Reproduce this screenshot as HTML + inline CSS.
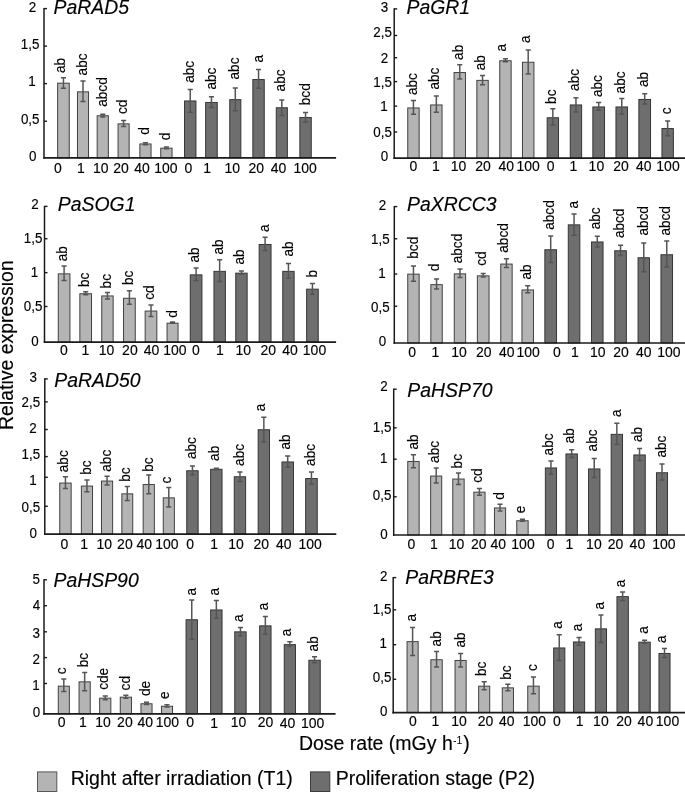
<!DOCTYPE html>
<html lang="en">
<head>
<meta charset="utf-8">
<title>Relative expression of DNA repair genes vs dose rate</title>
<style>
html,body{margin:0;padding:0;background:#fff;}
body{width:685px;height:792px;overflow:hidden;}
svg{display:block;}
</style>
</head>
<body>
<svg width="685" height="792" viewBox="0 0 685 792" font-family='"Liberation Sans", Arial, Helvetica, sans-serif' fill="#000000" stroke="#000000" stroke-width="0.15">
<rect x="0" y="0" width="685" height="792" fill="#ffffff" stroke="none"/>
<g>
<rect x="57.65" y="83.15" width="11.6" height="74.75" fill="#b4b4b4" stroke="#3a3a3a" stroke-width="0.95"/>
<rect x="77.45" y="91.85" width="11.1" height="66.05" fill="#b4b4b4" stroke="#3a3a3a" stroke-width="0.95"/>
<rect x="97.15" y="115.75" width="11.2" height="42.15" fill="#b4b4b4" stroke="#3a3a3a" stroke-width="0.95"/>
<rect x="118.05" y="123.85" width="11.1" height="34.05" fill="#b4b4b4" stroke="#3a3a3a" stroke-width="0.95"/>
<rect x="139.85" y="143.95" width="11.2" height="13.95" fill="#b4b4b4" stroke="#3a3a3a" stroke-width="0.95"/>
<rect x="160.75" y="148.15" width="11.3" height="9.75" fill="#b4b4b4" stroke="#3a3a3a" stroke-width="0.95"/>
<rect x="184.55" y="100.95" width="11.4" height="56.95" fill="#6e6e6e" stroke="#303030" stroke-width="0.95"/>
<rect x="205.65" y="102.45" width="11.6" height="55.45" fill="#6e6e6e" stroke="#303030" stroke-width="0.95"/>
<rect x="229.75" y="99.65" width="11.1" height="58.25" fill="#6e6e6e" stroke="#303030" stroke-width="0.95"/>
<rect x="252.85" y="79.55" width="11.4" height="78.35" fill="#6e6e6e" stroke="#303030" stroke-width="0.95"/>
<rect x="276.25" y="107.75" width="11.1" height="50.15" fill="#6e6e6e" stroke="#303030" stroke-width="0.95"/>
<rect x="299.85" y="117.45" width="11.4" height="40.45" fill="#6e6e6e" stroke="#303030" stroke-width="0.95"/>
<path d="M63.45 77.6V88.4M60.9 77.7H66M60.9 88.3H66" stroke="#555555" stroke-width="1.5" fill="none"/>
<path d="M83 80.9V101.6M80.45 81H85.55M80.45 101.5H85.55" stroke="#555555" stroke-width="1.5" fill="none"/>
<path d="M102.75 114.05V117.05M100.2 114.15H105.3M100.2 116.95H105.3" stroke="#555555" stroke-width="1.5" fill="none"/>
<path d="M123.6 120.5V126.7M121.05 120.6H126.15M121.05 126.6H126.15" stroke="#555555" stroke-width="1.5" fill="none"/>
<path d="M145.45 142.65V144.95M142.9 142.75H148M142.9 144.85H148" stroke="#555555" stroke-width="1.5" fill="none"/>
<path d="M166.4 146.95V148.95M163.85 147.05H168.95M163.85 148.85H168.95" stroke="#555555" stroke-width="1.5" fill="none"/>
<path d="M190.25 89.3V112.4M187.7 89.4H192.8M187.7 112.3H192.8" stroke="#555555" stroke-width="1.5" fill="none"/>
<path d="M211.45 96.6V107.6M208.9 96.7H214M208.9 107.5H214" stroke="#555555" stroke-width="1.5" fill="none"/>
<path d="M235.3 87.8V110.9M232.75 87.9H237.85M232.75 110.8H237.85" stroke="#555555" stroke-width="1.5" fill="none"/>
<path d="M258.55 69.5V88.3M256 69.6H261.1M256 88.2H261.1" stroke="#555555" stroke-width="1.5" fill="none"/>
<path d="M281.8 99.9V115.7M279.25 100H284.35M279.25 115.6H284.35" stroke="#555555" stroke-width="1.5" fill="none"/>
<path d="M305.55 112.5V122.2M303 112.6H308.1M303 122.1H308.1" stroke="#555555" stroke-width="1.5" fill="none"/>
<text font-size="13.9" transform="translate(65.4 73.1) rotate(-90) scale(0.98 1)">ab</text>
<text font-size="13.9" transform="translate(86.9 75.4) rotate(-90) scale(0.98 1)">abc</text>
<text font-size="13.9" transform="translate(107.1 106.8) rotate(-90) scale(0.98 1)">abcd</text>
<text font-size="13.9" transform="translate(127.2 114) rotate(-90) scale(0.98 1)">cd</text>
<text font-size="13.9" transform="translate(148.8 134.8) rotate(-90) scale(0.98 1)">d</text>
<text font-size="13.9" transform="translate(170.2 140.3) rotate(-90) scale(0.98 1)">d</text>
<text font-size="13.9" transform="translate(193.5 82.8) rotate(-90) scale(0.98 1)">abc</text>
<text font-size="13.9" transform="translate(216.1 89.6) rotate(-90) scale(0.98 1)">abc</text>
<text font-size="13.9" transform="translate(238.7 79.5) rotate(-90) scale(0.98 1)">abc</text>
<text font-size="13.9" transform="translate(263.1 62.5) rotate(-90) scale(0.98 1)">a</text>
<text font-size="13.9" transform="translate(284.7 91.4) rotate(-90) scale(0.98 1)">abc</text>
<text font-size="13.9" transform="translate(309.8 105.2) rotate(-90) scale(0.98 1)">bcd</text>
<path d="M44 8V158.8" stroke="#1a1a1a" stroke-width="1.5" fill="none"/>
<path d="M43.25 157.9H336.1" stroke="#1a1a1a" stroke-width="1.7" fill="none"/>
<path d="M44 8.6H47" stroke="#1a1a1a" stroke-width="1.4"/>
<path d="M44 46.1H47" stroke="#1a1a1a" stroke-width="1.4"/>
<path d="M44 83.6H47" stroke="#1a1a1a" stroke-width="1.4"/>
<path d="M44 121.25H47" stroke="#1a1a1a" stroke-width="1.4"/>
<text font-size="14.4" text-anchor="end" transform="translate(36.3 12) scale(0.93 1)">2</text>
<text font-size="14.4" text-anchor="end" transform="translate(39.4 49) scale(0.93 1)">1,5</text>
<text font-size="14.4" text-anchor="end" transform="translate(35.6 86) scale(0.93 1)">1</text>
<text font-size="14.4" text-anchor="end" transform="translate(39.5 124) scale(0.93 1)">0,5</text>
<text font-size="14.4" text-anchor="end" transform="translate(36.5 161) scale(0.93 1)">0</text>
<text font-size="14.5" text-anchor="middle" transform="translate(58 173) scale(0.965 1)">0</text>
<text font-size="14.5" text-anchor="middle" transform="translate(81 173) scale(0.965 1)">1</text>
<text font-size="14.5" text-anchor="middle" transform="translate(100.8 173) scale(0.965 1)">10</text>
<text font-size="14.5" text-anchor="middle" transform="translate(121.1 173) scale(0.965 1)">20</text>
<text font-size="14.5" text-anchor="middle" transform="translate(142 173) scale(0.965 1)">40</text>
<text font-size="14.5" text-anchor="middle" transform="translate(165.9 173) scale(0.965 1)">100</text>
<text font-size="14.5" text-anchor="middle" transform="translate(188.3 173) scale(0.965 1)">0</text>
<text font-size="14.5" text-anchor="middle" transform="translate(207.2 173) scale(0.965 1)">1</text>
<text font-size="14.5" text-anchor="middle" transform="translate(232.3 173) scale(0.965 1)">10</text>
<text font-size="14.5" text-anchor="middle" transform="translate(256.2 173) scale(0.965 1)">20</text>
<text font-size="14.5" text-anchor="middle" transform="translate(278.5 173) scale(0.965 1)">40</text>
<text font-size="14.5" text-anchor="middle" transform="translate(305.2 173) scale(0.965 1)">100</text>
<text font-size="19.6" font-style="italic" transform="translate(53.5 14.1) scale(0.99 1)">PaRAD5</text>
</g>
<g>
<rect x="407.75" y="107.95" width="11.4" height="50.25" fill="#b4b4b4" stroke="#3a3a3a" stroke-width="0.95"/>
<rect x="430.65" y="104.95" width="11.4" height="53.25" fill="#b4b4b4" stroke="#3a3a3a" stroke-width="0.95"/>
<rect x="454.05" y="72.55" width="11.4" height="85.65" fill="#b4b4b4" stroke="#3a3a3a" stroke-width="0.95"/>
<rect x="476.85" y="80.35" width="11.4" height="77.85" fill="#b4b4b4" stroke="#3a3a3a" stroke-width="0.95"/>
<rect x="499.75" y="60.75" width="11.4" height="97.45" fill="#b4b4b4" stroke="#3a3a3a" stroke-width="0.95"/>
<rect x="522.45" y="62.25" width="11.5" height="95.95" fill="#b4b4b4" stroke="#3a3a3a" stroke-width="0.95"/>
<rect x="547.15" y="117.75" width="11.4" height="40.45" fill="#6e6e6e" stroke="#303030" stroke-width="0.95"/>
<rect x="570.25" y="104.95" width="11.4" height="53.25" fill="#6e6e6e" stroke="#303030" stroke-width="0.95"/>
<rect x="592.85" y="106.95" width="11.7" height="51.25" fill="#6e6e6e" stroke="#303030" stroke-width="0.95"/>
<rect x="615.95" y="106.95" width="11.6" height="51.25" fill="#6e6e6e" stroke="#303030" stroke-width="0.95"/>
<rect x="638.85" y="99.45" width="11.7" height="58.75" fill="#6e6e6e" stroke="#303030" stroke-width="0.95"/>
<rect x="661.95" y="128.55" width="11.4" height="29.65" fill="#6e6e6e" stroke="#303030" stroke-width="0.95"/>
<path d="M413.45 100.4V114.4M410.9 100.5H416M410.9 114.3H416" stroke="#555555" stroke-width="1.5" fill="none"/>
<path d="M436.35 95.9V112.4M433.8 96H438.9M433.8 112.3H438.9" stroke="#555555" stroke-width="1.5" fill="none"/>
<path d="M459.75 64.7V79.2M457.2 64.8H462.3M457.2 79.1H462.3" stroke="#555555" stroke-width="1.5" fill="none"/>
<path d="M482.55 75.3V84.8M480 75.4H485.1M480 84.7H485.1" stroke="#555555" stroke-width="1.5" fill="none"/>
<path d="M505.45 58.75V61.75M502.9 58.85H508M502.9 61.65H508" stroke="#555555" stroke-width="1.5" fill="none"/>
<path d="M528.2 49.9V74M525.65 50H530.75M525.65 73.9H530.75" stroke="#555555" stroke-width="1.5" fill="none"/>
<path d="M552.85 108.7V125.2M550.3 108.8H555.4M550.3 125.1H555.4" stroke="#555555" stroke-width="1.5" fill="none"/>
<path d="M575.95 97.6V112.1M573.4 97.7H578.5M573.4 112H578.5" stroke="#555555" stroke-width="1.5" fill="none"/>
<path d="M598.7 102.4V110.4M596.15 102.5H601.25M596.15 110.3H601.25" stroke="#555555" stroke-width="1.5" fill="none"/>
<path d="M621.75 98.4V114.4M619.2 98.5H624.3M619.2 114.3H624.3" stroke="#555555" stroke-width="1.5" fill="none"/>
<path d="M644.7 93.6V104.1M642.15 93.7H647.25M642.15 104H647.25" stroke="#555555" stroke-width="1.5" fill="none"/>
<path d="M667.65 120.8V135.8M665.1 120.9H670.2M665.1 135.7H670.2" stroke="#555555" stroke-width="1.5" fill="none"/>
<text font-size="13.9" transform="translate(416.5 95.1) rotate(-90) scale(0.98 1)">abc</text>
<text font-size="13.9" transform="translate(439.1 89.6) rotate(-90) scale(0.98 1)">abc</text>
<text font-size="13.9" transform="translate(463.2 59.9) rotate(-90) scale(0.98 1)">ab</text>
<text font-size="13.9" transform="translate(485.1 70.2) rotate(-90) scale(0.98 1)">ab</text>
<text font-size="13.9" transform="translate(506.4 51.4) rotate(-90) scale(0.98 1)">a</text>
<text font-size="13.9" transform="translate(530.2 43.1) rotate(-90) scale(0.98 1)">a</text>
<text font-size="13.9" transform="translate(555.8 103.9) rotate(-90) scale(0.98 1)">bc</text>
<text font-size="13.9" transform="translate(578.9 90.9) rotate(-90) scale(0.98 1)">abc</text>
<text font-size="13.9" transform="translate(601.5 97.1) rotate(-90) scale(0.98 1)">abc</text>
<text font-size="13.9" transform="translate(624.9 93.4) rotate(-90) scale(0.98 1)">abc</text>
<text font-size="13.9" transform="translate(647.5 87.1) rotate(-90) scale(0.98 1)">ab</text>
<text font-size="13.9" transform="translate(670.9 114.2) rotate(-90) scale(0.98 1)">c</text>
<path d="M394.2 8.3V159.1" stroke="#1a1a1a" stroke-width="1.5" fill="none"/>
<path d="M393.45 158.2H686" stroke="#1a1a1a" stroke-width="1.7" fill="none"/>
<path d="M394.2 8.9H397.2" stroke="#1a1a1a" stroke-width="1.4"/>
<path d="M394.2 35.5H397.2" stroke="#1a1a1a" stroke-width="1.4"/>
<path d="M394.2 57.7H397.2" stroke="#1a1a1a" stroke-width="1.4"/>
<path d="M394.2 81.6H397.2" stroke="#1a1a1a" stroke-width="1.4"/>
<path d="M394.2 106.1H397.2" stroke="#1a1a1a" stroke-width="1.4"/>
<path d="M394.2 132H397.2" stroke="#1a1a1a" stroke-width="1.4"/>
<text font-size="14.4" text-anchor="end" transform="translate(388.2 12) scale(0.93 1)">3</text>
<text font-size="14.4" text-anchor="end" transform="translate(391.9 37) scale(0.93 1)">2,5</text>
<text font-size="14.4" text-anchor="end" transform="translate(388.3 63) scale(0.93 1)">2</text>
<text font-size="14.4" text-anchor="end" transform="translate(391.9 87) scale(0.93 1)">1,5</text>
<text font-size="14.4" text-anchor="end" transform="translate(387.8 111) scale(0.93 1)">1</text>
<text font-size="14.4" text-anchor="end" transform="translate(391.9 137) scale(0.93 1)">0,5</text>
<text font-size="14.4" text-anchor="end" transform="translate(388.3 161) scale(0.93 1)">0</text>
<text font-size="14.5" text-anchor="middle" transform="translate(413.4 171) scale(0.965 1)">0</text>
<text font-size="14.5" text-anchor="middle" transform="translate(436 171) scale(0.965 1)">1</text>
<text font-size="14.5" text-anchor="middle" transform="translate(458.6 171) scale(0.965 1)">10</text>
<text font-size="14.5" text-anchor="middle" transform="translate(483 171) scale(0.965 1)">20</text>
<text font-size="14.5" text-anchor="middle" transform="translate(506.3 171) scale(0.965 1)">40</text>
<text font-size="14.5" text-anchor="middle" transform="translate(528.1 171) scale(0.965 1)">100</text>
<text font-size="14.5" text-anchor="middle" transform="translate(550.7 171) scale(0.965 1)">0</text>
<text font-size="14.5" text-anchor="middle" transform="translate(573.3 171) scale(0.965 1)">1</text>
<text font-size="14.5" text-anchor="middle" transform="translate(596.4 171) scale(0.965 1)">10</text>
<text font-size="14.5" text-anchor="middle" transform="translate(621 171) scale(0.965 1)">20</text>
<text font-size="14.5" text-anchor="middle" transform="translate(643.7 171) scale(0.965 1)">40</text>
<text font-size="14.5" text-anchor="middle" transform="translate(668 171) scale(0.965 1)">100</text>
<text font-size="19.6" font-style="italic" transform="translate(406.5 14.1) scale(0.99 1)">PaGR1</text>
</g>
<g>
<rect x="58.25" y="273.85" width="11.7" height="68.25" fill="#b4b4b4" stroke="#3a3a3a" stroke-width="0.95"/>
<rect x="79.85" y="293.75" width="11.7" height="48.35" fill="#b4b4b4" stroke="#3a3a3a" stroke-width="0.95"/>
<rect x="101.75" y="295.95" width="11.4" height="46.15" fill="#b4b4b4" stroke="#3a3a3a" stroke-width="0.95"/>
<rect x="123.55" y="298.25" width="11.7" height="43.85" fill="#b4b4b4" stroke="#3a3a3a" stroke-width="0.95"/>
<rect x="145.15" y="311.05" width="11.7" height="31.05" fill="#b4b4b4" stroke="#3a3a3a" stroke-width="0.95"/>
<rect x="167.05" y="323.15" width="11" height="18.95" fill="#b4b4b4" stroke="#3a3a3a" stroke-width="0.95"/>
<rect x="190.25" y="274.85" width="11.7" height="67.25" fill="#6e6e6e" stroke="#303030" stroke-width="0.95"/>
<rect x="213.95" y="271.35" width="11.4" height="70.75" fill="#6e6e6e" stroke="#303030" stroke-width="0.95"/>
<rect x="235.75" y="273.15" width="11.4" height="68.95" fill="#6e6e6e" stroke="#303030" stroke-width="0.95"/>
<rect x="259.15" y="244.45" width="11.9" height="97.65" fill="#6e6e6e" stroke="#303030" stroke-width="0.95"/>
<rect x="282.75" y="271.35" width="11.4" height="70.75" fill="#6e6e6e" stroke="#303030" stroke-width="0.95"/>
<rect x="306.65" y="289.15" width="11.6" height="52.95" fill="#6e6e6e" stroke="#303030" stroke-width="0.95"/>
<path d="M64.1 265.8V280.6M61.55 265.9H66.65M61.55 280.5H66.65" stroke="#555555" stroke-width="1.5" fill="none"/>
<path d="M85.7 291.75V294.75M83.15 291.85H88.25M83.15 294.65H88.25" stroke="#555555" stroke-width="1.5" fill="none"/>
<path d="M107.45 292.4V299.1M104.9 292.5H110M104.9 299H110" stroke="#555555" stroke-width="1.5" fill="none"/>
<path d="M129.4 290.7V304.4M126.85 290.8H131.95M126.85 304.3H131.95" stroke="#555555" stroke-width="1.5" fill="none"/>
<path d="M151 305V316.5M148.45 305.1H153.55M148.45 316.4H153.55" stroke="#555555" stroke-width="1.5" fill="none"/>
<path d="M172.55 321.95V323.45M170 322.05H175.1M170 323.35H175.1" stroke="#555555" stroke-width="1.5" fill="none"/>
<path d="M196.1 268V280.6M193.55 268.1H198.65M193.55 280.5H198.65" stroke="#555555" stroke-width="1.5" fill="none"/>
<path d="M219.65 259.7V281.6M217.1 259.8H222.2M217.1 281.5H222.2" stroke="#555555" stroke-width="1.5" fill="none"/>
<path d="M241.45 270.95V274.45M238.9 271.05H244M238.9 274.35H244" stroke="#555555" stroke-width="1.5" fill="none"/>
<path d="M265.1 237.1V250.7M262.55 237.2H267.65M262.55 250.6H267.65" stroke="#555555" stroke-width="1.5" fill="none"/>
<path d="M288.45 263.5V278.3M285.9 263.6H291M285.9 278.2H291" stroke="#555555" stroke-width="1.5" fill="none"/>
<path d="M312.45 283.4V294.4M309.9 283.5H315M309.9 294.3H315" stroke="#555555" stroke-width="1.5" fill="none"/>
<text font-size="13.9" transform="translate(67.4 261.3) rotate(-90) scale(0.98 1)">ab</text>
<text font-size="13.9" transform="translate(89.3 287.1) rotate(-90) scale(0.98 1)">bc</text>
<text font-size="13.9" transform="translate(110.7 288.4) rotate(-90) scale(0.98 1)">bc</text>
<text font-size="13.9" transform="translate(132.8 285.1) rotate(-90) scale(0.98 1)">bc</text>
<text font-size="13.9" transform="translate(154.1 299.7) rotate(-90) scale(0.98 1)">cd</text>
<text font-size="13.9" transform="translate(176.6 317.8) rotate(-90) scale(0.98 1)">d</text>
<text font-size="13.9" transform="translate(198.5 262.5) rotate(-90) scale(0.98 1)">ab</text>
<text font-size="13.9" transform="translate(223.1 254.5) rotate(-90) scale(0.98 1)">ab</text>
<text font-size="13.9" transform="translate(244.2 264.5) rotate(-90) scale(0.98 1)">ab</text>
<text font-size="13.9" transform="translate(268.8 231.9) rotate(-90) scale(0.98 1)">a</text>
<text font-size="13.9" transform="translate(292.7 256.5) rotate(-90) scale(0.98 1)">ab</text>
<text font-size="13.9" transform="translate(316.6 277.6) rotate(-90) scale(0.98 1)">b</text>
<path d="M44.5 205.8V343" stroke="#1a1a1a" stroke-width="1.5" fill="none"/>
<path d="M43.75 342.1H336.1" stroke="#1a1a1a" stroke-width="1.7" fill="none"/>
<path d="M44.5 206.4H47.5" stroke="#1a1a1a" stroke-width="1.4"/>
<path d="M44.5 238.75H47.5" stroke="#1a1a1a" stroke-width="1.4"/>
<path d="M44.5 272.65H47.5" stroke="#1a1a1a" stroke-width="1.4"/>
<path d="M44.5 306.5H47.5" stroke="#1a1a1a" stroke-width="1.4"/>
<text font-size="14.4" text-anchor="end" transform="translate(38.7 209) scale(0.93 1)">2</text>
<text font-size="14.4" text-anchor="end" transform="translate(42.4 243) scale(0.93 1)">1,5</text>
<text font-size="14.4" text-anchor="end" transform="translate(38.3 277) scale(0.93 1)">1</text>
<text font-size="14.4" text-anchor="end" transform="translate(42.4 311) scale(0.93 1)">0,5</text>
<text font-size="14.4" text-anchor="end" transform="translate(38.7 346) scale(0.93 1)">0</text>
<text font-size="14.5" text-anchor="middle" transform="translate(64 355) scale(0.965 1)">0</text>
<text font-size="14.5" text-anchor="middle" transform="translate(85.4 355) scale(0.965 1)">1</text>
<text font-size="14.5" text-anchor="middle" transform="translate(106.5 355) scale(0.965 1)">10</text>
<text font-size="14.5" text-anchor="middle" transform="translate(129.9 355) scale(0.965 1)">20</text>
<text font-size="14.5" text-anchor="middle" transform="translate(151.5 355) scale(0.965 1)">40</text>
<text font-size="14.5" text-anchor="middle" transform="translate(174.8 355) scale(0.965 1)">100</text>
<text font-size="14.5" text-anchor="middle" transform="translate(195.9 355) scale(0.965 1)">0</text>
<text font-size="14.5" text-anchor="middle" transform="translate(220 355) scale(0.965 1)">1</text>
<text font-size="14.5" text-anchor="middle" transform="translate(243.2 355) scale(0.965 1)">10</text>
<text font-size="14.5" text-anchor="middle" transform="translate(268.3 355) scale(0.965 1)">20</text>
<text font-size="14.5" text-anchor="middle" transform="translate(290.1 355) scale(0.965 1)">40</text>
<text font-size="14.5" text-anchor="middle" transform="translate(314.5 355) scale(0.965 1)">100</text>
<text font-size="19.6" font-style="italic" transform="translate(57.8 211.1) scale(0.99 1)">PaSOG1</text>
</g>
<g>
<rect x="407.75" y="274.15" width="11.4" height="68.85" fill="#b4b4b4" stroke="#3a3a3a" stroke-width="0.95"/>
<rect x="430.85" y="284.65" width="11.4" height="58.35" fill="#b4b4b4" stroke="#3a3a3a" stroke-width="0.95"/>
<rect x="454.25" y="273.85" width="11.4" height="69.15" fill="#b4b4b4" stroke="#3a3a3a" stroke-width="0.95"/>
<rect x="477.35" y="275.85" width="11.7" height="67.15" fill="#b4b4b4" stroke="#3a3a3a" stroke-width="0.95"/>
<rect x="500.75" y="264.05" width="11.4" height="78.95" fill="#b4b4b4" stroke="#3a3a3a" stroke-width="0.95"/>
<rect x="521.95" y="289.95" width="11.5" height="53.05" fill="#b4b4b4" stroke="#3a3a3a" stroke-width="0.95"/>
<rect x="544.85" y="249.75" width="11.7" height="93.25" fill="#6e6e6e" stroke="#303030" stroke-width="0.95"/>
<rect x="568.25" y="224.85" width="11.6" height="118.15" fill="#6e6e6e" stroke="#303030" stroke-width="0.95"/>
<rect x="591.55" y="241.95" width="11.5" height="101.05" fill="#6e6e6e" stroke="#303030" stroke-width="0.95"/>
<rect x="614.75" y="250.75" width="11.6" height="92.25" fill="#6e6e6e" stroke="#303030" stroke-width="0.95"/>
<rect x="638.05" y="257.75" width="11.4" height="85.25" fill="#6e6e6e" stroke="#303030" stroke-width="0.95"/>
<rect x="660.95" y="254.75" width="11.6" height="88.25" fill="#6e6e6e" stroke="#303030" stroke-width="0.95"/>
<path d="M413.45 266V281.3M410.9 266.1H416M410.9 281.2H416" stroke="#555555" stroke-width="1.5" fill="none"/>
<path d="M436.55 278.8V289.1M434 278.9H439.1M434 289H439.1" stroke="#555555" stroke-width="1.5" fill="none"/>
<path d="M459.95 268.8V277.5M457.4 268.9H462.5M457.4 277.4H462.5" stroke="#555555" stroke-width="1.5" fill="none"/>
<path d="M483.2 273.45V277.15M480.65 273.55H485.75M480.65 277.05H485.75" stroke="#555555" stroke-width="1.5" fill="none"/>
<path d="M506.45 258.7V267.7M503.9 258.8H509M503.9 267.6H509" stroke="#555555" stroke-width="1.5" fill="none"/>
<path d="M527.7 285.6V292.9M525.15 285.7H530.25M525.15 292.8H530.25" stroke="#555555" stroke-width="1.5" fill="none"/>
<path d="M550.7 235.9V262.5M548.15 236H553.25M548.15 262.4H553.25" stroke="#555555" stroke-width="1.5" fill="none"/>
<path d="M574.05 213.8V235.3M571.5 213.9H576.6M571.5 235.2H576.6" stroke="#555555" stroke-width="1.5" fill="none"/>
<path d="M597.3 236.1V247.1M594.75 236.2H599.85M594.75 247H599.85" stroke="#555555" stroke-width="1.5" fill="none"/>
<path d="M620.55 245.2V255.7M618 245.3H623.1M618 255.6H623.1" stroke="#555555" stroke-width="1.5" fill="none"/>
<path d="M643.75 242.9V271.8M641.2 243H646.3M641.2 271.7H646.3" stroke="#555555" stroke-width="1.5" fill="none"/>
<path d="M666.75 240.9V267.2M664.2 241H669.3M664.2 267.1H669.3" stroke="#555555" stroke-width="1.5" fill="none"/>
<text font-size="13.9" transform="translate(417.7 258.7) rotate(-90) scale(0.98 1)">bcd</text>
<text font-size="13.9" transform="translate(439.1 271.3) rotate(-90) scale(0.98 1)">d</text>
<text font-size="13.9" transform="translate(462.4 263.3) rotate(-90) scale(0.98 1)">abcd</text>
<text font-size="13.9" transform="translate(486.3 265.8) rotate(-90) scale(0.98 1)">cd</text>
<text font-size="13.9" transform="translate(508.4 252.7) rotate(-90) scale(0.98 1)">abcd</text>
<text font-size="13.9" transform="translate(530.7 279.6) rotate(-90) scale(0.98 1)">ab</text>
<text font-size="13.9" transform="translate(553.8 229.8) rotate(-90) scale(0.98 1)">abcd</text>
<text font-size="13.9" transform="translate(577.9 208.5) rotate(-90) scale(0.98 1)">a</text>
<text font-size="13.9" transform="translate(600.3 229.3) rotate(-90) scale(0.98 1)">abc</text>
<text font-size="13.9" transform="translate(623.7 238.1) rotate(-90) scale(0.98 1)">abcd</text>
<text font-size="13.9" transform="translate(647.5 235.6) rotate(-90) scale(0.98 1)">abcd</text>
<text font-size="13.9" transform="translate(670.1 235.6) rotate(-90) scale(0.98 1)">abcd</text>
<path d="M394.3 206V343.9" stroke="#1a1a1a" stroke-width="1.5" fill="none"/>
<path d="M393.55 343H686" stroke="#1a1a1a" stroke-width="1.7" fill="none"/>
<path d="M394.3 206.6H397.3" stroke="#1a1a1a" stroke-width="1.4"/>
<path d="M394.3 238.75H397.3" stroke="#1a1a1a" stroke-width="1.4"/>
<path d="M394.3 274H397.3" stroke="#1a1a1a" stroke-width="1.4"/>
<path d="M394.3 306.25H397.3" stroke="#1a1a1a" stroke-width="1.4"/>
<text font-size="14.4" text-anchor="end" transform="translate(386.3 210) scale(0.93 1)">2</text>
<text font-size="14.4" text-anchor="end" transform="translate(389.7 244) scale(0.93 1)">1,5</text>
<text font-size="14.4" text-anchor="end" transform="translate(385.8 278) scale(0.93 1)">1</text>
<text font-size="14.4" text-anchor="end" transform="translate(389.7 312) scale(0.93 1)">0,5</text>
<text font-size="14.4" text-anchor="end" transform="translate(386.3 346) scale(0.93 1)">0</text>
<text font-size="14.5" text-anchor="middle" transform="translate(412.1 357) scale(0.965 1)">0</text>
<text font-size="14.5" text-anchor="middle" transform="translate(435.5 357) scale(0.965 1)">1</text>
<text font-size="14.5" text-anchor="middle" transform="translate(459.1 357) scale(0.965 1)">10</text>
<text font-size="14.5" text-anchor="middle" transform="translate(483.7 357) scale(0.965 1)">20</text>
<text font-size="14.5" text-anchor="middle" transform="translate(506.8 357) scale(0.965 1)">40</text>
<text font-size="14.5" text-anchor="middle" transform="translate(528.1 357) scale(0.965 1)">100</text>
<text font-size="14.5" text-anchor="middle" transform="translate(557 357) scale(0.965 1)">0</text>
<text font-size="14.5" text-anchor="middle" transform="translate(574.9 357) scale(0.965 1)">1</text>
<text font-size="14.5" text-anchor="middle" transform="translate(597.7 357) scale(0.965 1)">10</text>
<text font-size="14.5" text-anchor="middle" transform="translate(621 357) scale(0.965 1)">20</text>
<text font-size="14.5" text-anchor="middle" transform="translate(643.7 357) scale(0.965 1)">40</text>
<text font-size="14.5" text-anchor="middle" transform="translate(668.8 357) scale(0.965 1)">100</text>
<text font-size="19.6" font-style="italic" transform="translate(407.1 211.1) scale(0.99 1)">PaXRCC3</text>
</g>
<g>
<rect x="59.75" y="483.05" width="11.4" height="51.05" fill="#b4b4b4" stroke="#3a3a3a" stroke-width="0.95"/>
<rect x="81.35" y="486.05" width="11.2" height="48.05" fill="#b4b4b4" stroke="#3a3a3a" stroke-width="0.95"/>
<rect x="101.45" y="481.05" width="11.2" height="53.05" fill="#b4b4b4" stroke="#3a3a3a" stroke-width="0.95"/>
<rect x="121.85" y="493.85" width="10.9" height="40.25" fill="#b4b4b4" stroke="#3a3a3a" stroke-width="0.95"/>
<rect x="143.15" y="484.55" width="11.2" height="49.55" fill="#b4b4b4" stroke="#3a3a3a" stroke-width="0.95"/>
<rect x="163.25" y="497.85" width="11.1" height="36.25" fill="#b4b4b4" stroke="#3a3a3a" stroke-width="0.95"/>
<rect x="186.75" y="470.75" width="11.4" height="63.35" fill="#6e6e6e" stroke="#303030" stroke-width="0.95"/>
<rect x="210.65" y="469.25" width="11.4" height="64.85" fill="#6e6e6e" stroke="#303030" stroke-width="0.95"/>
<rect x="234.25" y="476.75" width="11.4" height="57.35" fill="#6e6e6e" stroke="#303030" stroke-width="0.95"/>
<rect x="258.15" y="429.75" width="11.4" height="104.35" fill="#6e6e6e" stroke="#303030" stroke-width="0.95"/>
<rect x="281.95" y="461.95" width="11.5" height="72.15" fill="#6e6e6e" stroke="#303030" stroke-width="0.95"/>
<rect x="305.65" y="478.55" width="11.6" height="55.55" fill="#6e6e6e" stroke="#303030" stroke-width="0.95"/>
<path d="M65.45 476.7V488.7M62.9 476.8H68M62.9 488.6H68" stroke="#555555" stroke-width="1.5" fill="none"/>
<path d="M86.95 480V491.8M84.4 480.1H89.5M84.4 491.7H89.5" stroke="#555555" stroke-width="1.5" fill="none"/>
<path d="M107.05 476.2V485.2M104.5 476.3H109.6M104.5 485.1H109.6" stroke="#555555" stroke-width="1.5" fill="none"/>
<path d="M127.3 486.5V500.6M124.75 486.6H129.85M124.75 500.5H129.85" stroke="#555555" stroke-width="1.5" fill="none"/>
<path d="M148.75 475V493.8M146.2 475.1H151.3M146.2 493.7H151.3" stroke="#555555" stroke-width="1.5" fill="none"/>
<path d="M168.8 487.5V507.1M166.25 487.6H171.35M166.25 507H171.35" stroke="#555555" stroke-width="1.5" fill="none"/>
<path d="M192.45 465.9V474.9M189.9 466H195M189.9 474.8H195" stroke="#555555" stroke-width="1.5" fill="none"/>
<path d="M216.35 468.05V469.75M213.8 468.15H218.9M213.8 469.65H218.9" stroke="#555555" stroke-width="1.5" fill="none"/>
<path d="M239.95 472V481.5M237.4 472.1H242.5M237.4 481.4H242.5" stroke="#555555" stroke-width="1.5" fill="none"/>
<path d="M263.85 417.2V442M261.3 417.3H266.4M261.3 441.9H266.4" stroke="#555555" stroke-width="1.5" fill="none"/>
<path d="M287.7 455.9V467.4M285.15 456H290.25M285.15 467.3H290.25" stroke="#555555" stroke-width="1.5" fill="none"/>
<path d="M311.45 472V484.2M308.9 472.1H314M308.9 484.1H314" stroke="#555555" stroke-width="1.5" fill="none"/>
<text font-size="13.9" transform="translate(67.9 472.2) rotate(-90) scale(0.98 1)">abc</text>
<text font-size="13.9" transform="translate(90.6 474.7) rotate(-90) scale(0.98 1)">bc</text>
<text font-size="13.9" transform="translate(110.7 471.7) rotate(-90) scale(0.98 1)">abc</text>
<text font-size="13.9" transform="translate(130 481.8) rotate(-90) scale(0.98 1)">bc</text>
<text font-size="13.9" transform="translate(152.6 471.7) rotate(-90) scale(0.98 1)">bc</text>
<text font-size="13.9" transform="translate(171 483.5) rotate(-90) scale(0.98 1)">c</text>
<text font-size="13.9" transform="translate(195.5 459.1) rotate(-90) scale(0.98 1)">abc</text>
<text font-size="13.9" transform="translate(219.1 460.9) rotate(-90) scale(0.98 1)">ab</text>
<text font-size="13.9" transform="translate(244.2 465.9) rotate(-90) scale(0.98 1)">abc</text>
<text font-size="13.9" transform="translate(265.1 411.2) rotate(-90) scale(0.98 1)">a</text>
<text font-size="13.9" transform="translate(289.7 449.6) rotate(-90) scale(0.98 1)">ab</text>
<text font-size="13.9" transform="translate(314.8 465.9) rotate(-90) scale(0.98 1)">abc</text>
<path d="M44.8 378.3V535" stroke="#1a1a1a" stroke-width="1.5" fill="none"/>
<path d="M44.05 534.1H336.3" stroke="#1a1a1a" stroke-width="1.7" fill="none"/>
<path d="M44.8 378.9H47.8" stroke="#1a1a1a" stroke-width="1.4"/>
<path d="M44.8 401.9H47.8" stroke="#1a1a1a" stroke-width="1.4"/>
<path d="M44.8 429.5H47.8" stroke="#1a1a1a" stroke-width="1.4"/>
<path d="M44.8 456.6H47.8" stroke="#1a1a1a" stroke-width="1.4"/>
<path d="M44.8 477.3H47.8" stroke="#1a1a1a" stroke-width="1.4"/>
<path d="M44.8 506.25H47.8" stroke="#1a1a1a" stroke-width="1.4"/>
<text font-size="14.4" text-anchor="end" transform="translate(36.9 382) scale(0.93 1)">3</text>
<text font-size="14.4" text-anchor="end" transform="translate(40.1 407) scale(0.93 1)">2,5</text>
<text font-size="14.4" text-anchor="end" transform="translate(36.7 433) scale(0.93 1)">2</text>
<text font-size="14.4" text-anchor="end" transform="translate(40.1 459) scale(0.93 1)">1,5</text>
<text font-size="14.4" text-anchor="end" transform="translate(36.6 485) scale(0.93 1)">1</text>
<text font-size="14.4" text-anchor="end" transform="translate(40.1 512) scale(0.93 1)">0,5</text>
<text font-size="14.4" text-anchor="end" transform="translate(36.9 538) scale(0.93 1)">0</text>
<text font-size="14.5" text-anchor="middle" transform="translate(64.3 549) scale(0.965 1)">0</text>
<text font-size="14.5" text-anchor="middle" transform="translate(84.2 549) scale(0.965 1)">1</text>
<text font-size="14.5" text-anchor="middle" transform="translate(104.3 549) scale(0.965 1)">10</text>
<text font-size="14.5" text-anchor="middle" transform="translate(124.9 549) scale(0.965 1)">20</text>
<text font-size="14.5" text-anchor="middle" transform="translate(144.2 549) scale(0.965 1)">40</text>
<text font-size="14.5" text-anchor="middle" transform="translate(166.8 549) scale(0.965 1)">100</text>
<text font-size="14.5" text-anchor="middle" transform="translate(190.1 549) scale(0.965 1)">0</text>
<text font-size="14.5" text-anchor="middle" transform="translate(214.2 549) scale(0.965 1)">1</text>
<text font-size="14.5" text-anchor="middle" transform="translate(236.1 549) scale(0.965 1)">10</text>
<text font-size="14.5" text-anchor="middle" transform="translate(261.2 549) scale(0.965 1)">20</text>
<text font-size="14.5" text-anchor="middle" transform="translate(283.8 549) scale(0.965 1)">40</text>
<text font-size="14.5" text-anchor="middle" transform="translate(310.2 549) scale(0.965 1)">100</text>
<text font-size="19.6" font-style="italic" transform="translate(54.3 386.6) scale(0.99 1)">PaRAD50</text>
</g>
<g>
<rect x="407.75" y="461.45" width="11.4" height="73.55" fill="#b4b4b4" stroke="#3a3a3a" stroke-width="0.95"/>
<rect x="430.65" y="476.05" width="11.1" height="58.95" fill="#b4b4b4" stroke="#3a3a3a" stroke-width="0.95"/>
<rect x="452.75" y="479.05" width="11.4" height="55.95" fill="#b4b4b4" stroke="#3a3a3a" stroke-width="0.95"/>
<rect x="473.85" y="492.15" width="11.2" height="42.85" fill="#b4b4b4" stroke="#3a3a3a" stroke-width="0.95"/>
<rect x="494.45" y="507.95" width="11.2" height="27.05" fill="#b4b4b4" stroke="#3a3a3a" stroke-width="0.95"/>
<rect x="516.75" y="520.75" width="11.4" height="14.25" fill="#b4b4b4" stroke="#3a3a3a" stroke-width="0.95"/>
<rect x="545.35" y="467.95" width="11.2" height="67.05" fill="#6e6e6e" stroke="#303030" stroke-width="0.95"/>
<rect x="565.95" y="453.95" width="11.4" height="81.05" fill="#6e6e6e" stroke="#303030" stroke-width="0.95"/>
<rect x="588.55" y="468.95" width="11.4" height="66.05" fill="#6e6e6e" stroke="#303030" stroke-width="0.95"/>
<rect x="611.15" y="434.35" width="11.4" height="100.65" fill="#6e6e6e" stroke="#303030" stroke-width="0.95"/>
<rect x="633.85" y="454.95" width="11.4" height="80.05" fill="#6e6e6e" stroke="#303030" stroke-width="0.95"/>
<rect x="656.45" y="472.75" width="11.1" height="62.25" fill="#6e6e6e" stroke="#303030" stroke-width="0.95"/>
<path d="M413.45 454.6V467.9M410.9 454.7H416M410.9 467.8H416" stroke="#555555" stroke-width="1.5" fill="none"/>
<path d="M436.2 467.9V483.2M433.65 468H438.75M433.65 483.1H438.75" stroke="#555555" stroke-width="1.5" fill="none"/>
<path d="M458.45 473V484.7M455.9 473.1H461M455.9 484.6H461" stroke="#555555" stroke-width="1.5" fill="none"/>
<path d="M479.45 488.5V495.3M476.9 488.6H482M476.9 495.2H482" stroke="#555555" stroke-width="1.5" fill="none"/>
<path d="M500.05 504.1V511.1M497.5 504.2H502.6M497.5 511H502.6" stroke="#555555" stroke-width="1.5" fill="none"/>
<path d="M522.45 519.25V521.35M519.9 519.35H525M519.9 521.25H525" stroke="#555555" stroke-width="1.5" fill="none"/>
<path d="M550.95 460.9V474.4M548.4 461H553.5M548.4 474.3H553.5" stroke="#555555" stroke-width="1.5" fill="none"/>
<path d="M571.65 449.6V457.6M569.1 449.7H574.2M569.1 457.5H574.2" stroke="#555555" stroke-width="1.5" fill="none"/>
<path d="M594.25 458.4V477.7M591.7 458.5H596.8M591.7 477.6H596.8" stroke="#555555" stroke-width="1.5" fill="none"/>
<path d="M616.85 423.2V444.5M614.3 423.3H619.4M614.3 444.4H619.4" stroke="#555555" stroke-width="1.5" fill="none"/>
<path d="M639.55 448.3V460.6M637 448.4H642.1M637 460.5H642.1" stroke="#555555" stroke-width="1.5" fill="none"/>
<path d="M662 463.9V480.2M659.45 464H664.55M659.45 480.1H664.55" stroke="#555555" stroke-width="1.5" fill="none"/>
<text font-size="13.9" transform="translate(417.7 449.6) rotate(-90) scale(0.98 1)">ab</text>
<text font-size="13.9" transform="translate(439.1 462.9) rotate(-90) scale(0.98 1)">abc</text>
<text font-size="13.9" transform="translate(462.4 468.4) rotate(-90) scale(0.98 1)">bc</text>
<text font-size="13.9" transform="translate(481.8 482.8) rotate(-90) scale(0.98 1)">cd</text>
<text font-size="13.9" transform="translate(503.9 499.8) rotate(-90) scale(0.98 1)">d</text>
<text font-size="13.9" transform="translate(524.9 513.2) rotate(-90) scale(0.98 1)">e</text>
<text font-size="13.9" transform="translate(553.3 455.4) rotate(-90) scale(0.98 1)">abc</text>
<text font-size="13.9" transform="translate(574.2 443.3) rotate(-90) scale(0.98 1)">ab</text>
<text font-size="13.9" transform="translate(597.3 451.4) rotate(-90) scale(0.98 1)">abc</text>
<text font-size="13.9" transform="translate(620.6 416.9) rotate(-90) scale(0.98 1)">a</text>
<text font-size="13.9" transform="translate(642 442.1) rotate(-90) scale(0.98 1)">ab</text>
<text font-size="13.9" transform="translate(665.9 457.6) rotate(-90) scale(0.98 1)">abc</text>
<path d="M393.7 388.6V535.9" stroke="#1a1a1a" stroke-width="1.5" fill="none"/>
<path d="M392.95 535H686" stroke="#1a1a1a" stroke-width="1.7" fill="none"/>
<path d="M393.7 389.2H396.7" stroke="#1a1a1a" stroke-width="1.4"/>
<path d="M393.7 427.8H396.7" stroke="#1a1a1a" stroke-width="1.4"/>
<path d="M393.7 459.2H396.7" stroke="#1a1a1a" stroke-width="1.4"/>
<path d="M393.7 496.8H396.7" stroke="#1a1a1a" stroke-width="1.4"/>
<text font-size="14.4" text-anchor="end" transform="translate(387.6 391) scale(0.93 1)">2</text>
<text font-size="14.4" text-anchor="end" transform="translate(391.4 432) scale(0.93 1)">1,5</text>
<text font-size="14.4" text-anchor="end" transform="translate(387.5 463) scale(0.93 1)">1</text>
<text font-size="14.4" text-anchor="end" transform="translate(391.4 500) scale(0.93 1)">0,5</text>
<text font-size="14.4" text-anchor="end" transform="translate(387.7 539) scale(0.93 1)">0</text>
<text font-size="14.5" text-anchor="middle" transform="translate(411.3 549) scale(0.965 1)">0</text>
<text font-size="14.5" text-anchor="middle" transform="translate(434 549) scale(0.965 1)">1</text>
<text font-size="14.5" text-anchor="middle" transform="translate(456.6 549) scale(0.965 1)">10</text>
<text font-size="14.5" text-anchor="middle" transform="translate(478.7 549) scale(0.965 1)">20</text>
<text font-size="14.5" text-anchor="middle" transform="translate(498.3 549) scale(0.965 1)">40</text>
<text font-size="14.5" text-anchor="middle" transform="translate(523 549) scale(0.965 1)">100</text>
<text font-size="14.5" text-anchor="middle" transform="translate(550.7 549) scale(0.965 1)">0</text>
<text font-size="14.5" text-anchor="middle" transform="translate(569.5 549) scale(0.965 1)">1</text>
<text font-size="14.5" text-anchor="middle" transform="translate(593.9 549) scale(0.965 1)">10</text>
<text font-size="14.5" text-anchor="middle" transform="translate(615.5 549) scale(0.965 1)">20</text>
<text font-size="14.5" text-anchor="middle" transform="translate(637.4 549) scale(0.965 1)">40</text>
<text font-size="14.5" text-anchor="middle" transform="translate(663.8 549) scale(0.965 1)">100</text>
<text font-size="19.6" font-style="italic" transform="translate(407.3 397.4) scale(0.99 1)">PaHSP70</text>
</g>
<g>
<rect x="58.25" y="686.15" width="11.1" height="27.65" fill="#b4b4b4" stroke="#3a3a3a" stroke-width="0.95"/>
<rect x="79.05" y="681.85" width="11.2" height="31.95" fill="#b4b4b4" stroke="#3a3a3a" stroke-width="0.95"/>
<rect x="99.65" y="698.15" width="11.2" height="15.65" fill="#b4b4b4" stroke="#3a3a3a" stroke-width="0.95"/>
<rect x="120.25" y="697.15" width="11.2" height="16.65" fill="#b4b4b4" stroke="#3a3a3a" stroke-width="0.95"/>
<rect x="140.95" y="703.75" width="11.1" height="10.05" fill="#b4b4b4" stroke="#3a3a3a" stroke-width="0.95"/>
<rect x="161.45" y="706.25" width="11.1" height="7.55" fill="#b4b4b4" stroke="#3a3a3a" stroke-width="0.95"/>
<rect x="186.05" y="619.75" width="11.4" height="94.05" fill="#6e6e6e" stroke="#303030" stroke-width="0.95"/>
<rect x="210.65" y="609.95" width="11.4" height="103.85" fill="#6e6e6e" stroke="#303030" stroke-width="0.95"/>
<rect x="234.75" y="631.85" width="11.4" height="81.95" fill="#6e6e6e" stroke="#303030" stroke-width="0.95"/>
<rect x="259.65" y="625.85" width="11.4" height="87.95" fill="#6e6e6e" stroke="#303030" stroke-width="0.95"/>
<rect x="284.25" y="644.65" width="11.2" height="69.15" fill="#6e6e6e" stroke="#303030" stroke-width="0.95"/>
<rect x="308.85" y="660.25" width="11.4" height="53.55" fill="#6e6e6e" stroke="#303030" stroke-width="0.95"/>
<path d="M63.8 679V691.6M61.25 679.1H66.35M61.25 691.5H66.35" stroke="#555555" stroke-width="1.5" fill="none"/>
<path d="M84.65 672.3V690.8M82.1 672.4H87.2M82.1 690.7H87.2" stroke="#555555" stroke-width="1.5" fill="none"/>
<path d="M105.25 695.95V699.75M102.7 696.05H107.8M102.7 699.65H107.8" stroke="#555555" stroke-width="1.5" fill="none"/>
<path d="M125.85 695.25V698.45M123.3 695.35H128.4M123.3 698.35H128.4" stroke="#555555" stroke-width="1.5" fill="none"/>
<path d="M146.5 702.25V704.55M143.95 702.35H149.05M143.95 704.45H149.05" stroke="#555555" stroke-width="1.5" fill="none"/>
<path d="M167 704.75V707.05M164.45 704.85H169.55M164.45 706.95H169.55" stroke="#555555" stroke-width="1.5" fill="none"/>
<path d="M191.75 599.9V639.3M189.2 600H194.3M189.2 639.2H194.3" stroke="#555555" stroke-width="1.5" fill="none"/>
<path d="M216.35 600.4V618.4M213.8 600.5H218.9M213.8 618.3H218.9" stroke="#555555" stroke-width="1.5" fill="none"/>
<path d="M240.45 627.5V635.8M237.9 627.6H243M237.9 635.7H243" stroke="#555555" stroke-width="1.5" fill="none"/>
<path d="M265.35 616.5V634.3M262.8 616.6H267.9M262.8 634.2H267.9" stroke="#555555" stroke-width="1.5" fill="none"/>
<path d="M289.85 641.6V646.3M287.3 641.7H292.4M287.3 646.2H292.4" stroke="#555555" stroke-width="1.5" fill="none"/>
<path d="M314.55 656.7V662.9M312 656.8H317.1M312 662.8H317.1" stroke="#555555" stroke-width="1.5" fill="none"/>
<text font-size="13.9" transform="translate(66.2 674.3) rotate(-90) scale(0.98 1)">c</text>
<text font-size="13.9" transform="translate(88 667.2) rotate(-90) scale(0.98 1)">bc</text>
<text font-size="13.9" transform="translate(108.1 689.8) rotate(-90) scale(0.98 1)">cde</text>
<text font-size="13.9" transform="translate(130 690.4) rotate(-90) scale(0.98 1)">cd</text>
<text font-size="13.9" transform="translate(149.6 696.1) rotate(-90) scale(0.98 1)">de</text>
<text font-size="13.9" transform="translate(169.2 699.1) rotate(-90) scale(0.98 1)">e</text>
<text font-size="13.9" transform="translate(195.5 595.6) rotate(-90) scale(0.98 1)">a</text>
<text font-size="13.9" transform="translate(219.1 595.6) rotate(-90) scale(0.98 1)">a</text>
<text font-size="13.9" transform="translate(243 622) rotate(-90) scale(0.98 1)">a</text>
<text font-size="13.9" transform="translate(268.1 610.2) rotate(-90) scale(0.98 1)">a</text>
<text font-size="13.9" transform="translate(290.7 636.3) rotate(-90) scale(0.98 1)">a</text>
<text font-size="13.9" transform="translate(317.8 651.4) rotate(-90) scale(0.98 1)">ab</text>
<path d="M44 579.2V714.7" stroke="#1a1a1a" stroke-width="1.5" fill="none"/>
<path d="M43.25 713.8H335.6" stroke="#1a1a1a" stroke-width="1.7" fill="none"/>
<path d="M44 579.8H47" stroke="#1a1a1a" stroke-width="1.4"/>
<path d="M44 605.7H47" stroke="#1a1a1a" stroke-width="1.4"/>
<path d="M44 631.8H47" stroke="#1a1a1a" stroke-width="1.4"/>
<path d="M44 657.6H47" stroke="#1a1a1a" stroke-width="1.4"/>
<path d="M44 683.5H47" stroke="#1a1a1a" stroke-width="1.4"/>
<text font-size="14.4" text-anchor="end" transform="translate(39.9 584) scale(0.93 1)">5</text>
<text font-size="14.4" text-anchor="end" transform="translate(40.1 610) scale(0.93 1)">4</text>
<text font-size="14.4" text-anchor="end" transform="translate(39.9 638) scale(0.93 1)">3</text>
<text font-size="14.4" text-anchor="end" transform="translate(39.9 664) scale(0.93 1)">2</text>
<text font-size="14.4" text-anchor="end" transform="translate(39.6 690) scale(0.93 1)">1</text>
<text font-size="14.4" text-anchor="end" transform="translate(40.1 717) scale(0.93 1)">0</text>
<text font-size="14.5" text-anchor="middle" transform="translate(61.6 727.1) scale(0.965 1)">0</text>
<text font-size="14.5" text-anchor="middle" transform="translate(82.9 727.1) scale(0.965 1)">1</text>
<text font-size="14.5" text-anchor="middle" transform="translate(103 727.1) scale(0.965 1)">10</text>
<text font-size="14.5" text-anchor="middle" transform="translate(124.9 727.1) scale(0.965 1)">20</text>
<text font-size="14.5" text-anchor="middle" transform="translate(145.2 727.1) scale(0.965 1)">40</text>
<text font-size="14.5" text-anchor="middle" transform="translate(167.3 727.1) scale(0.965 1)">100</text>
<text font-size="14.5" text-anchor="middle" transform="translate(190.1 727.1) scale(0.965 1)">0</text>
<text font-size="14.5" text-anchor="middle" transform="translate(214.2 728) scale(0.965 1)">1</text>
<text font-size="14.5" text-anchor="middle" transform="translate(238.6 726.9) scale(0.965 1)">10</text>
<text font-size="14.5" text-anchor="middle" transform="translate(265.5 727.4) scale(0.965 1)">20</text>
<text font-size="14.5" text-anchor="middle" transform="translate(287.6 727.9) scale(0.965 1)">40</text>
<text font-size="14.5" text-anchor="middle" transform="translate(312.7 727.9) scale(0.965 1)">100</text>
<text font-size="19.6" font-style="italic" transform="translate(53.5 587.4) scale(0.99 1)">PaHSP90</text>
</g>
<g>
<rect x="407.05" y="641.65" width="11.1" height="70.95" fill="#b4b4b4" stroke="#3a3a3a" stroke-width="0.95"/>
<rect x="430.85" y="659.75" width="11.4" height="52.85" fill="#b4b4b4" stroke="#3a3a3a" stroke-width="0.95"/>
<rect x="455.05" y="660.45" width="11.1" height="52.15" fill="#b4b4b4" stroke="#3a3a3a" stroke-width="0.95"/>
<rect x="478.65" y="686.15" width="11.1" height="26.45" fill="#b4b4b4" stroke="#3a3a3a" stroke-width="0.95"/>
<rect x="502.25" y="687.85" width="11.2" height="24.75" fill="#b4b4b4" stroke="#3a3a3a" stroke-width="0.95"/>
<rect x="527.75" y="686.15" width="11.4" height="26.45" fill="#b4b4b4" stroke="#3a3a3a" stroke-width="0.95"/>
<rect x="553.65" y="647.95" width="11.2" height="64.65" fill="#6e6e6e" stroke="#303030" stroke-width="0.95"/>
<rect x="573.45" y="641.95" width="11.2" height="70.65" fill="#6e6e6e" stroke="#303030" stroke-width="0.95"/>
<rect x="595.35" y="628.85" width="11.2" height="83.75" fill="#6e6e6e" stroke="#303030" stroke-width="0.95"/>
<rect x="616.95" y="596.65" width="11.4" height="115.95" fill="#6e6e6e" stroke="#303030" stroke-width="0.95"/>
<rect x="638.85" y="642.15" width="11.4" height="70.45" fill="#6e6e6e" stroke="#303030" stroke-width="0.95"/>
<rect x="658.95" y="653.45" width="11.1" height="59.15" fill="#6e6e6e" stroke="#303030" stroke-width="0.95"/>
<path d="M412.6 627.3V655.6M410.05 627.4H415.15M410.05 655.5H415.15" stroke="#555555" stroke-width="1.5" fill="none"/>
<path d="M436.55 651.4V667.2M434 651.5H439.1M434 667.1H439.1" stroke="#555555" stroke-width="1.5" fill="none"/>
<path d="M460.6 653.4V667.2M458.05 653.5H463.15M458.05 667.1H463.15" stroke="#555555" stroke-width="1.5" fill="none"/>
<path d="M484.2 681.6V689.8M481.65 681.7H486.75M481.65 689.7H486.75" stroke="#555555" stroke-width="1.5" fill="none"/>
<path d="M507.85 684.1V690.8M505.3 684.2H510.4M505.3 690.7H510.4" stroke="#555555" stroke-width="1.5" fill="none"/>
<path d="M533.45 677V693.8M530.9 677.1H536M530.9 693.7H536" stroke="#555555" stroke-width="1.5" fill="none"/>
<path d="M559.25 634.6V660.7M556.7 634.7H561.8M556.7 660.6H561.8" stroke="#555555" stroke-width="1.5" fill="none"/>
<path d="M579.05 637.3V645.3M576.5 637.4H581.6M576.5 645.2H581.6" stroke="#555555" stroke-width="1.5" fill="none"/>
<path d="M600.95 615V642.6M598.4 615.1H603.5M598.4 642.5H603.5" stroke="#555555" stroke-width="1.5" fill="none"/>
<path d="M622.65 591.9V600.6M620.1 592H625.2M620.1 600.5H625.2" stroke="#555555" stroke-width="1.5" fill="none"/>
<path d="M644.55 640.25V643.25M642 640.35H647.1M642 643.15H647.1" stroke="#555555" stroke-width="1.5" fill="none"/>
<path d="M664.5 648.4V657.6M661.95 648.5H667.05M661.95 657.5H667.05" stroke="#555555" stroke-width="1.5" fill="none"/>
<text font-size="13.9" transform="translate(416 621.5) rotate(-90) scale(0.98 1)">a</text>
<text font-size="13.9" transform="translate(440.6 646.4) rotate(-90) scale(0.98 1)">ab</text>
<text font-size="13.9" transform="translate(465 647.6) rotate(-90) scale(0.98 1)">ab</text>
<text font-size="13.9" transform="translate(486.3 676) rotate(-90) scale(0.98 1)">bc</text>
<text font-size="13.9" transform="translate(510.9 679.8) rotate(-90) scale(0.98 1)">bc</text>
<text font-size="13.9" transform="translate(536.5 671) rotate(-90) scale(0.98 1)">c</text>
<text font-size="13.9" transform="translate(562.1 628.8) rotate(-90) scale(0.98 1)">a</text>
<text font-size="13.9" transform="translate(581.7 631.3) rotate(-90) scale(0.98 1)">a</text>
<text font-size="13.9" transform="translate(603.6 609.4) rotate(-90) scale(0.98 1)">a</text>
<text font-size="13.9" transform="translate(624.9 587.3) rotate(-90) scale(0.98 1)">a</text>
<text font-size="13.9" transform="translate(647.5 633.8) rotate(-90) scale(0.98 1)">a</text>
<text font-size="13.9" transform="translate(665.9 642.9) rotate(-90) scale(0.98 1)">a</text>
<path d="M393.2 577V713.5" stroke="#1a1a1a" stroke-width="1.5" fill="none"/>
<path d="M392.45 712.6H686" stroke="#1a1a1a" stroke-width="1.7" fill="none"/>
<path d="M393.2 577.6H396.2" stroke="#1a1a1a" stroke-width="1.4"/>
<path d="M393.2 609.8H396.2" stroke="#1a1a1a" stroke-width="1.4"/>
<path d="M393.2 644.7H396.2" stroke="#1a1a1a" stroke-width="1.4"/>
<path d="M393.2 679.3H396.2" stroke="#1a1a1a" stroke-width="1.4"/>
<text font-size="14.4" text-anchor="end" transform="translate(387.4 581) scale(0.93 1)">2</text>
<text font-size="14.4" text-anchor="end" transform="translate(391.4 614) scale(0.93 1)">1,5</text>
<text font-size="14.4" text-anchor="end" transform="translate(386.9 648) scale(0.93 1)">1</text>
<text font-size="14.4" text-anchor="end" transform="translate(391.4 682) scale(0.93 1)">0,5</text>
<text font-size="14.4" text-anchor="end" transform="translate(387.4 716) scale(0.93 1)">0</text>
<text font-size="14.5" text-anchor="middle" transform="translate(412.8 726) scale(0.965 1)">0</text>
<text font-size="14.5" text-anchor="middle" transform="translate(435.5 726) scale(0.965 1)">1</text>
<text font-size="14.5" text-anchor="middle" transform="translate(459.1 726) scale(0.965 1)">10</text>
<text font-size="14.5" text-anchor="middle" transform="translate(485.5 726) scale(0.965 1)">20</text>
<text font-size="14.5" text-anchor="middle" transform="translate(506.8 726) scale(0.965 1)">40</text>
<text font-size="14.5" text-anchor="middle" transform="translate(534.4 726) scale(0.965 1)">100</text>
<text font-size="14.5" text-anchor="middle" transform="translate(557 726) scale(0.965 1)">0</text>
<text font-size="14.5" text-anchor="middle" transform="translate(579.6 726) scale(0.965 1)">1</text>
<text font-size="14.5" text-anchor="middle" transform="translate(600.9 726) scale(0.965 1)">10</text>
<text font-size="14.5" text-anchor="middle" transform="translate(624.1 726) scale(0.965 1)">20</text>
<text font-size="14.5" text-anchor="middle" transform="translate(645.4 726) scale(0.965 1)">40</text>
<text font-size="14.5" text-anchor="middle" transform="translate(667.5 726) scale(0.965 1)">100</text>
<text font-size="19.6" font-style="italic" transform="translate(405.3 583.7) scale(0.99 1)">PaRBRE3</text>
</g>
<text font-size="19.45" text-anchor="middle" transform="translate(13.0 345.1) rotate(-90)">Relative expression</text>
<text font-size="20" transform="translate(298.9 750) scale(0.975 1)">Dose rate (mGy h<tspan font-size="10.8" dy="-6.4" dx="0.3" stroke="none">-1</tspan><tspan dy="6.4" dx="0.9">)</tspan></text>
<rect x="37.5" y="771.9" width="19.3" height="19.6" fill="#b4b4b4" stroke="#585858" stroke-width="1"/>
<text font-size="20" transform="translate(70.7 785) scale(0.975 1)">Right after irradiation (T1)</text>
<rect x="310.5" y="771.9" width="19.3" height="19.6" fill="#6e6e6e" stroke="#3c3c3c" stroke-width="1"/>
<text font-size="20" transform="translate(335.7 785) scale(0.975 1)">Proliferation stage (P2)</text>
</svg>
</body>
</html>
